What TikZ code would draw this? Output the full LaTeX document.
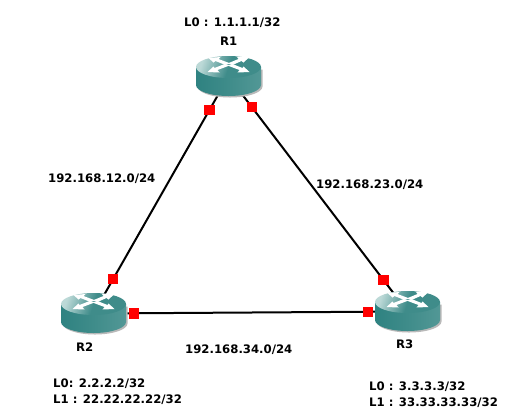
\documentclass[tikz,border=0pt]{standalone}
\usepackage{fontspec}
\setmainfont{DejaVu Sans}
\usetikzlibrary{arrows.meta,positioning,calc}
\definecolor{routertop}{HTML}{3F8C8A}
\definecolor{routerside}{HTML}{2F8281}
\definecolor{routerlight}{HTML}{BCD9D7}
\tikzset{
  routerpos/.style={minimum width=66pt, minimum height=42pt, inner sep=0pt},
  port/.style={fill=red, minimum size=10.5pt, inner sep=0pt},
  link/.style={line width=2pt, black},
  lbl/.style={font=\fontsize{11.7}{13}\selectfont\bfseries, inner sep=0pt, anchor=west},
}
% router icon, drawn around a named node
\newcommand{\routericon}[1]{%
  \begin{scope}[shift={(#1)}]
    % shadow
    \fill[gray!55] (-31,-7) -- (-31,10) arc[start angle=180, end angle=0, x radius=32.5, y radius=11] -- (34,-7) -- cycle;
    % body
    \shade[left color=routerside, right color=routertop!90!white, middle color=routertop]
      (-32.5,-9.5) -- (-32.5,8.5) arc[start angle=180, end angle=0, x radius=32.5, y radius=11] -- (32.5,-9.5) -- cycle;
    % top
    \shade[left color=routerlight, right color=routertop, middle color=routertop, shading angle=70]
      (0,-9.5) ellipse[x radius=32.5, y radius=11];
    % arrows
    \fill[white] (-20,-18.5) -- (-8,-19.5) -- (-10,-17.5) -- (2,-13) -- (-3,-11.5) -- (-13,-15.5) -- (-15,-14) -- cycle;
    \fill[white] (21,-19.5) -- (8,-20) -- (10,-17.5) -- (-1,-13) -- (4,-11.5) -- (13,-15.5) -- (15,-14) -- cycle;
    \fill[white] (-21,-4.5) -- (-9,-4) -- (-11,-6.5) -- (1,-11) -- (-4,-12.5) -- (-14,-8.5) -- (-15,-10) -- cycle;
    \fill[white] (21,-4.5) -- (9,-4) -- (11,-6.5) -- (-1,-11) -- (4,-12.5) -- (14,-8.5) -- (15,-10) -- cycle;
  \end{scope}
}

\begin{document}
\begin{tikzpicture}[x=1pt, y=-1pt]
\useasboundingbox[fill=white] (0,0) rectangle (510,413);

% routers
\node[routerpos] (R1) at (228.5,76.5) {};
\node[routerpos] (R2) at (93.5,313.5) {};
\node[routerpos] (R3) at (407.5,311.5) {};

% links
\draw[link] (R1.center) -- (R2.center) node[port, pos=0.141] (p12) {} node[port, pos=0.854] (p21) {};
\draw[link] (R1.center) -- (R3.center) node[port, pos=0.13] (p13) {} node[port, pos=0.866] (p31) {};
\draw[link] (R2.center) -- (R3.center) node[port, pos=0.129] (p23) {} node[port, pos=0.874] (p32) {};

\routericon{R1}
\routericon{R2}
\routericon{R3}

% names
\node[lbl] (nameR1) at (220,41) {R1};
\node[lbl] (nameR2) at (76,347.5) {R2};
\node[lbl] (nameR3) at (396,344.5) {R3};

% subnets
\node[lbl] (net12) at (48,178.5) {192.168.12.0/24};
\node[lbl] (net23) at (316,184.5) {192.168.23.0/24};
\node[lbl] (net34) at (185,349.5) {192.168.34.0/24};

% loopbacks
\node[lbl] (loopR1) at (184,22.5) {L0 : 1.1.1.1/32};
\node[lbl] (loopR2a) at (53,384) {L0: 2.2.2.2/32};
\node[lbl] (loopR2b) at (53,400) {L1 : 22.22.22.22/32};
\node[lbl] (loopR3a) at (369,386.5) {L0 : 3.3.3.3/32};
\node[lbl] (loopR3b) at (369,402.5) {L1 : 33.33.33.33/32};
\end{tikzpicture}
\end{document}
